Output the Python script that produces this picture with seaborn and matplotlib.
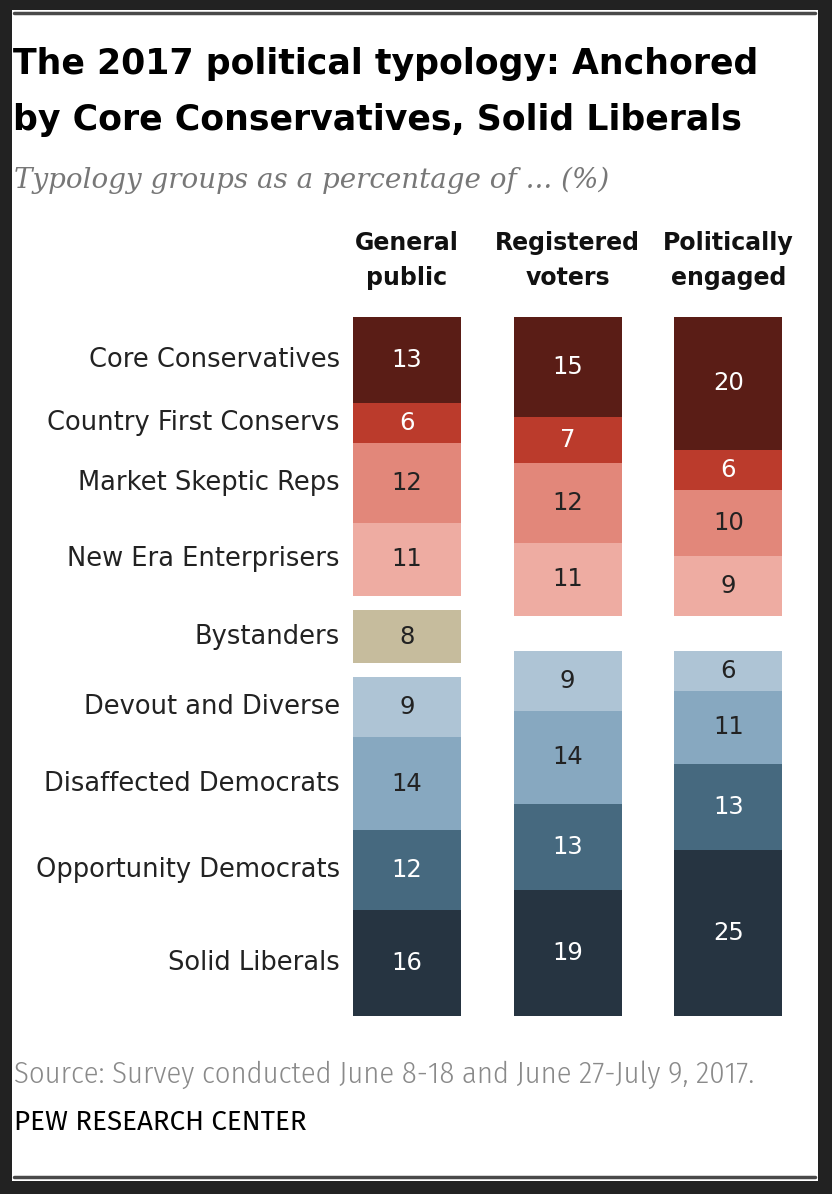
import matplotlib
matplotlib.use("Agg")
import matplotlib.pyplot as plt
import matplotlib.transforms as mtransforms
import seaborn as sns
import pandas as pd
from matplotlib.patches import Rectangle
from matplotlib.lines import Line2D

# ---------------- data ----------------
columns = ["General public", "Registered voters", "Politically engaged"]
column_headers = ["General\npublic", "Registered\nvoters", "Politically\nengaged"]
groups = ["Core Conservatives", "Country First Conservs", "Market Skeptic Reps",
          "New Era Enterprisers", "Bystanders", "Devout and Diverse",
          "Disaffected Democrats", "Opportunity Democrats", "Solid Liberals"]
general_public = [13, 6, 12, 11, 8, 9, 14, 12, 16]
registered_voters = [15, 7, 12, 11, 0, 9, 14, 13, 19]
politically_engaged = [20, 6, 10, 9, 0, 6, 11, 13, 25]
blocks = ["rep", "rep", "rep", "rep", "by", "dem", "dem", "dem", "dem"]

colors = ["#5a1d16", "#bb3b2c", "#e2877a", "#eeaca2", "#c6bc9d",
          "#aec4d5", "#87a8c0", "#46697f", "#263441"]
text_colors = ["white", "white", "#222222", "#222222", "#222222",
               "#222222", "#222222", "white", "white"]

title_lines = ["The 2017 political typology: Anchored",
               "by Core Conservatives, Solid Liberals"]
subtitle = "Typology groups as a percentage of ... (%)"
source = "Source: Survey conducted June 8-18 and June 27-July 9, 2017."
credit = "PEW RESEARCH CENTER"

# ---------------- layout ----------------
W, H = 832, 1194
sns.set_style("white")
fig = plt.figure(figsize=(W / 100, H / 100), dpi=100)
fig.patch.set_facecolor("#222222")

def fx(px):
    return px / W

def fy(py):
    return 1 - py / H

# white card
fig.patches.append(Rectangle((fx(12), fy(1181)), fx(818) - fx(12), fy(10) - fy(1181),
                             transform=fig.transFigure, facecolor="white",
                             edgecolor="none", zorder=-10))
for yy in (13, 1177):
    fig.lines.append(Line2D([fx(14), fx(815)], [fy(yy), fy(yy)], transform=fig.transFigure,
                            color="#4a4a4a", lw=2.5, zorder=-5))

# gaps between blocks (layout, in percentage units)
gap_by_col = [2.15, 5.3, 5.3]
vals = [general_public, registered_voters, politically_engaged]

starts = []
for ci, v in enumerate(vals):
    s = []
    pos = 0.0
    prev_block = None
    for gi, val in enumerate(v):
        b = blocks[gi]
        if prev_block is not None and b != prev_block and val > 0:
            pos += gap_by_col[ci]
        s.append(pos)
        if val > 0:
            pos += val
            prev_block = b
    starts.append(s)

total = 105.3
ax_left, ax_right = 326.6, 808.6
ax = fig.add_axes([fx(ax_left), fy(1016), fx(ax_right) - fx(ax_left), fy(317) - fy(1016)])
ax.set_facecolor("none")

for gi, g in enumerate(groups):
    df = pd.DataFrame({"column": columns,
                       "value": [vals[ci][gi] for ci in range(3)]})
    bottoms = [starts[ci][gi] for ci in range(3)]
    sns.barplot(data=df, x="column", y="value", order=columns, color=colors[gi],
                bottom=bottoms, width=0.672, linewidth=0, saturation=1,
                errorbar=None, ax=ax)
    for ci in range(3):
        v = vals[ci][gi]
        if v > 0:
            ax.text(ci, bottoms[ci] + v / 2, str(v), ha="center", va="center",
                    color=text_colors[gi], fontsize=17.5, family="DejaVu Sans")

ax.set_xlim(-0.5, 2.5)
ax.set_ylim(total, 0)
ax.axis("off")

# row labels
for gi, g in enumerate(groups):
    ax.text(-0.417, starts[0][gi] + general_public[gi] / 2, g, ha="right", va="center",
            color="#222222", fontsize=18.5, family="DejaVu Sans")

# headers
hdr_tr = mtransforms.blended_transform_factory(ax.transData, fig.transFigure)
for ci, h in enumerate(column_headers):
    for li, line in enumerate(h.split("\n")):
        ax.text(ci, fy(243 + 35 * li), line, transform=hdr_tr, ha="center", va="center",
                fontsize=17, fontweight="bold", color="#111111", family="DejaVu Sans")

for li, line in enumerate(title_lines):
    fig.text(fx(13), fy(74 + 56 * li), line, ha="left", va="baseline", fontsize=25,
             fontweight="bold", family="DejaVu Sans", color="black")
fig.text(fx(14), fy(188), subtitle, ha="left", va="baseline", fontsize=20, style="italic",
         family="DejaVu Serif", color="#777777")
fig.text(fx(14), fy(1083), source, ha="left", va="baseline", fontsize=22, fontweight=300,
         family=["Fira Sans Condensed", "DejaVu Sans"], color="#8a8a8a")
fig.text(fx(14), fy(1130), credit, ha="left", va="baseline", fontsize=20,
         family=["Fira Sans", "DejaVu Sans"], color="black")

fig.savefig("out.png", dpi=100, facecolor=fig.get_facecolor())
